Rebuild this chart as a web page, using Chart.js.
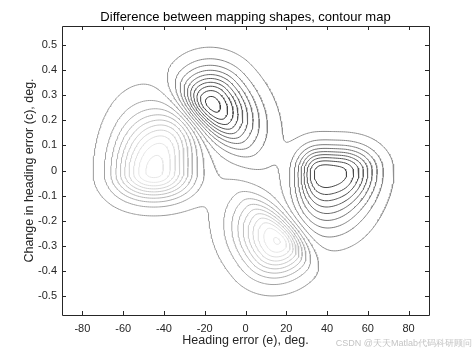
<!DOCTYPE html>
<html>
<head>
<meta charset="utf-8">
<script src="https://cdn.jsdelivr.net/npm/chart.js@4.4.1/dist/chart.umd.min.js"></script>
<style>
  html, body { margin: 0; padding: 0; background: #fff; }
  #wrap { width: 474px; height: 355px; }
</style>
</head>
<body>
<div id="wrap"><canvas id="grafico"></canvas></div>
<script>
// Eixos
const xTicks = [-80, -60, -40, -20, 0, 20, 40, 60, 80];
const yTicks = [-0.5, -0.4, -0.3, -0.2, -0.1, 0, 0.1, 0.2, 0.3, 0.4, 0.5];
const xLimits = [-90, 90];
const yLimits = [-0.575, 0.575];

// Superficie estimada da figura: picos (escuros) e vales (claros)
// larguras: u para esquerda/direita (graus), v para baixo/cima (unidades de c),
// eixo u girado pelo angulo (graus)
//                 A      B1     B2     B3     C1     C2     C3     D
const bumpX   = [-17,    35,    51,    40,   -52,   -38,   -37,    16];
const bumpY   = [0.265,  0.0,   0.0,  -0.15, -0.01, -0.01,  0.14, -0.28];
const bumpAng = [-47,    0,     0,     0,     0,     0,     0,    -48];
const bumpSUL = [11.5,   7,     8,     11,    10,    9,     9,     16];
const bumpSUR = [17,     8,     9.5,   12,    9,     10,    9,     10.6];
const bumpSVD = [0.06,   0.09,  0.09,  0.09,  0.07,  0.07,  0.07,  0.095];
const bumpSVU = [0.091,  0.065, 0.065, 0.09,  0.15,  0.14,  0.07,  0.052];
const bumpAmp = [1.01,   0.72,  0.66,  0.32, -0.66, -0.66, -0.22, -0.97];

// Niveis de contorno
const levels = [-0.95, -0.85, -0.75, -0.65, -0.55, -0.45, -0.35, -0.25, -0.15, -0.05,
                 0.05,  0.15,  0.25,  0.35,  0.45,  0.55,  0.65,  0.75,  0.85,  0.95];

const FONTE = "'Liberation Sans', Arial, sans-serif";
const COR_TEXTO = '#262626';
const K = 123.7; // graus equivalentes por unidade de c (mesma escala em pixels)

function campo(x, y) {
    let z = 0;
    for (let k = 0; k < bumpAmp.length; k++) {
        const ddx = x - bumpX[k], q = (y - bumpY[k]) * K;
        const a = bumpAng[k] * Math.PI / 180, c = Math.cos(a), s = Math.sin(a);
        const u = ddx * c + q * s;
        const v = (-ddx * s + q * c) / K;
        const du = u / (u < 0 ? bumpSUL[k] : bumpSUR[k]);
        const dv = v / (v < 0 ? bumpSVD[k] : bumpSVU[k]);
        z += bumpAmp[k] * Math.exp(-0.5 * (du * du + dv * dv));
    }
    return z;
}

// grade
const nx = 181, ny = 231;
const xs = [], ys = [], Z = [];
for (let i = 0; i < nx; i++) xs.push(xLimits[0] + i * (xLimits[1] - xLimits[0]) / (nx - 1));
for (let j = 0; j < ny; j++) ys.push(yLimits[0] + j * (yLimits[1] - yLimits[0]) / (ny - 1));
for (let j = 0; j < ny; j++) {
    const row = [];
    for (let i = 0; i < nx; i++) row.push(campo(xs[i], ys[j]));
    Z.push(row);
}

// marching squares -> polilinhas
function contorno(L) {
    const pts = {}, adj = {};
    function ponto(key, xa, ya, za, xb, yb, zb) {
        if (!pts[key]) {
            const t = (L - za) / (zb - za);
            pts[key] = { x: xa + t * (xb - xa), y: ya + t * (yb - ya) };
            adj[key] = [];
        }
        return key;
    }
    function liga(a, b) { adj[a].push(b); adj[b].push(a); }
    for (let j = 0; j < ny - 1; j++) {
        for (let i = 0; i < nx - 1; i++) {
            const z0 = Z[j][i], z1 = Z[j][i + 1], z2 = Z[j + 1][i + 1], z3 = Z[j + 1][i];
            const s0 = z0 >= L, s1 = z1 >= L, s2 = z2 >= L, s3 = z3 >= L;
            const e = [null, null, null, null];
            if (s0 !== s1) e[0] = ponto('h' + i + '_' + j, xs[i], ys[j], z0, xs[i + 1], ys[j], z1);
            if (s1 !== s2) e[1] = ponto('v' + (i + 1) + '_' + j, xs[i + 1], ys[j], z1, xs[i + 1], ys[j + 1], z2);
            if (s3 !== s2) e[2] = ponto('h' + i + '_' + (j + 1), xs[i], ys[j + 1], z3, xs[i + 1], ys[j + 1], z2);
            if (s0 !== s3) e[3] = ponto('v' + i + '_' + j, xs[i], ys[j], z0, xs[i], ys[j + 1], z3);
            const c = e.filter(k => k !== null);
            if (c.length === 2) {
                liga(c[0], c[1]);
            } else if (c.length === 4) {
                const centro = (z0 + z1 + z2 + z3) / 4 >= L;
                if (centro === s0) { liga(e[0], e[1]); liga(e[2], e[3]); }
                else { liga(e[3], e[0]); liga(e[1], e[2]); }
            }
        }
    }
    const visto = new Set();
    const dados = [];
    function percorre(inicio) {
        const linha = [inicio];
        visto.add(inicio);
        let cur = inicio;
        while (true) {
            const nb = adj[cur].filter(k => !visto.has(k));
            if (!nb.length) {
                if (linha.length > 2 && adj[cur].includes(inicio)) linha.push(inicio);
                break;
            }
            cur = nb[0];
            visto.add(cur);
            linha.push(cur);
        }
        linha.forEach(k => dados.push({ x: pts[k].x, y: pts[k].y }));
        const ult = pts[linha[linha.length - 1]];
        dados.push({ x: ult.x, y: null });
    }
    Object.keys(adj).forEach(k => { if (!visto.has(k) && adj[k].length === 1) percorre(k); });
    Object.keys(adj).forEach(k => { if (!visto.has(k)) percorre(k); });
    return dados;
}

function corNivel(L) {
    const g = Math.round(255 * Math.min(0.9, Math.max(0.2, 0.58 - 0.38 * L)));
    return `rgb(${g},${g},${g})`;
}

const datasets = levels.map(L => ({
    label: 'nivel ' + L,
    data: contorno(L),
    borderColor: corNivel(L),
    borderWidth: 1,
    showLine: true,
    spanGaps: false,
    pointRadius: 0,
    fill: false,
    tension: 0
}));

// Moldura, ticks internos, titulos e marca d'agua
const molduraPlugin = {
    id: 'moldura',
    afterDraw(chart) {
        const ctx = chart.ctx;
        const a = chart.chartArea;
        const sx = chart.scales.x, sy = chart.scales.y;
        ctx.save();
        ctx.strokeStyle = COR_TEXTO;
        ctx.lineWidth = 1;
        ctx.beginPath();
        ctx.rect(Math.round(a.left) + 0.5, Math.round(a.top) + 0.5,
                 Math.round(a.right - a.left), Math.round(a.bottom - a.top));
        ctx.stroke();
        const len = 4;
        ctx.beginPath();
        xTicks.forEach(v => {
            const px = Math.round(sx.getPixelForValue(v)) + 0.5;
            ctx.moveTo(px, a.bottom); ctx.lineTo(px, a.bottom - len);
            ctx.moveTo(px, a.top); ctx.lineTo(px, a.top + len);
        });
        yTicks.forEach(v => {
            const py = Math.round(sy.getPixelForValue(v)) + 0.5;
            ctx.moveTo(a.left, py); ctx.lineTo(a.left + len, py);
            ctx.moveTo(a.right, py); ctx.lineTo(a.right - len, py);
        });
        ctx.stroke();

        ctx.fillStyle = '#000';
        ctx.textAlign = 'center';
        ctx.textBaseline = 'middle';
        ctx.font = '13px ' + FONTE;
        ctx.fillText('Difference between mapping shapes, contour map', (a.left + a.right) / 2, 17);

        ctx.fillStyle = COR_TEXTO;
        ctx.font = '12.5px ' + FONTE;
        ctx.fillText('Heading error (e), deg.', (a.left + a.right) / 2, 341);
        ctx.save();
        ctx.translate(30, (a.top + a.bottom) / 2);
        ctx.rotate(-Math.PI / 2);
        ctx.fillText('Change in heading error (c), deg.', 0, 0);
        ctx.restore();

        ctx.fillStyle = '#c4c4c4';
        ctx.font = '9px ' + FONTE;
        ctx.textAlign = 'right';
        ctx.fillText('CSDN @天天Matlab代码科研顾问', 472, 344);
        ctx.restore();
    }
};

new Chart(document.getElementById('grafico'), {
    type: 'scatter',
    data: { datasets },
    options: {
        responsive: true,
        maintainAspectRatio: false,
        animation: false,
        events: [],
        layout: { padding: { top: 26, right: 45, left: 0, bottom: 0 } },
        plugins: {
            legend: { display: false },
            title: { display: false },
            tooltip: { enabled: false }
        },
        scales: {
            x: {
                type: 'linear',
                min: xLimits[0],
                max: xLimits[1],
                afterBuildTicks: s => { s.ticks = xTicks.map(v => ({ value: v })); },
                afterFit: s => { s.height = 40; },
                grid: { display: false, drawTicks: false },
                border: { display: false },
                ticks: {
                    padding: 7,
                    color: COR_TEXTO,
                    font: { family: FONTE, size: 11 },
                    maxRotation: 0,
                    autoSkip: false
                }
            },
            y: {
                type: 'linear',
                min: yLimits[0],
                max: yLimits[1],
                afterBuildTicks: s => { s.ticks = yTicks.map(v => ({ value: v })); },
                afterFit: s => { s.width = 62; },
                grid: { display: false, drawTicks: false },
                border: { display: false },
                ticks: {
                    padding: 5,
                    color: COR_TEXTO,
                    font: { family: FONTE, size: 11 },
                    autoSkip: false,
                    callback: v => String(Math.round(v * 10) / 10)
                }
            }
        }
    },
    plugins: [molduraPlugin]
});
</script>
</body>
</html>
